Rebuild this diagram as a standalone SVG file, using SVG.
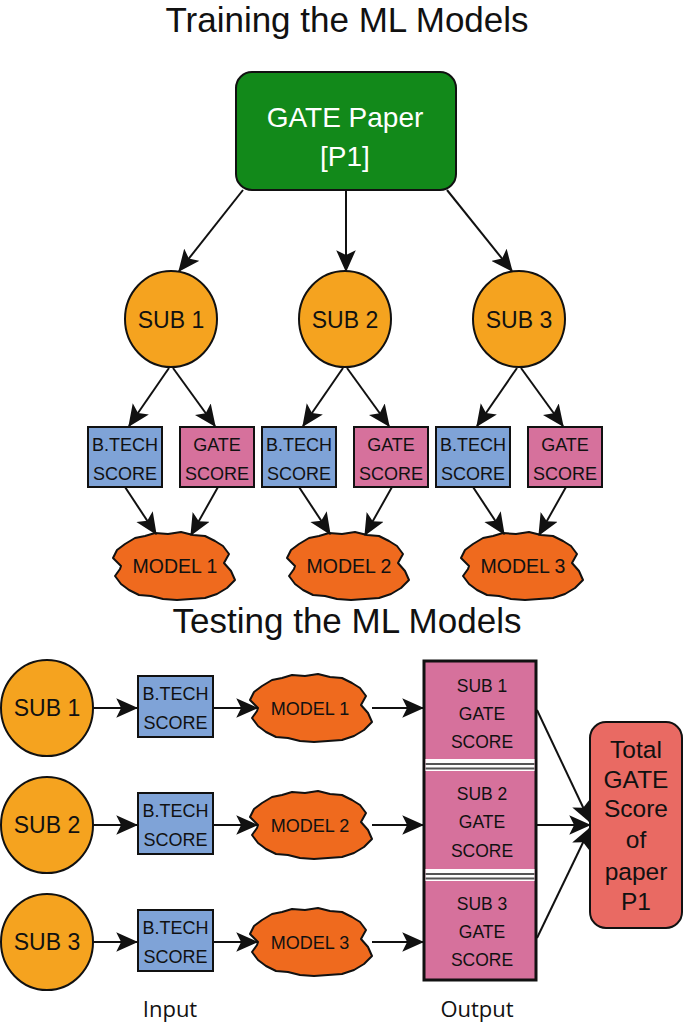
<svg xmlns="http://www.w3.org/2000/svg" xmlns:xlink="http://www.w3.org/1999/xlink" width="685" height="1023" viewBox="0 0 685 1023">
<style>
  text { font-family: "Liberation Sans", Arial, sans-serif; fill: #111; text-anchor: middle; }
  .title { font-size: 35px; }
  .sub { fill: #f5a31f; stroke: #111; stroke-width: 2; }
  .subt { font-size: 23px; }
  .btech { fill: #7fa3d7; stroke: #111; stroke-width: 2; }
  .gate { fill: #d6719c; stroke: #111; stroke-width: 2; }
  .bt { font-size: 18px; }
  .ot { font-size: 17.5px; }
  .cloud { fill: #ef6a1e; stroke: #111; stroke-width: 2; stroke-linejoin: round; }
  .ct { font-size: 19.5px; }
  .cb { font-size: 18px; }
  .tt { font-size: 24.5px; }
  .conn line { stroke: #111; stroke-width: 2; marker-end: url(#arr); }
  .lbl { font-family: "Open Sans", "Liberation Sans", sans-serif; font-size: 22px; }
</style>
<defs>
  <marker id="arr" viewBox="0 0 18 16" refX="17" refY="8" markerWidth="11" markerHeight="10" orient="auto" markerUnits="strokeWidth">
    <path d="M0,0 L18,8 L0,16 L4,8 Z" fill="#111"/>
  </marker>
  <polygon id="cloudShape" points="-52,0 -60,-8 -56,-16 -48,-22 -38,-28 -28,-30 -18,-33 -5,-32 8,-34 20,-31 32,-30 42,-25 50,-20 56,-12 51,-3 58,5 62,14 54,22 44,28 32,32 18,33 4,34 -10,33 -22,30 -34,29 -44,24 -52,18 -58,10 -53,3"/>
</defs>

<rect width="685" height="1023" fill="#ffffff"/>

<text class="title" x="347" y="32">Training the ML Models</text>
<text class="title" x="347" y="633">Testing the ML Models</text>

<g id="gate-paper">
  <rect x="236" y="72" width="220" height="118" rx="16" fill="#12891a" stroke="#111" stroke-width="2"/>
  <text x="345" y="127" style="font-size:28px; fill:#ffffff">GATE Paper</text>
  <text x="345" y="166" style="font-size:28px; fill:#ffffff">[P1]</text>
</g>

<!-- Training subjects -->
<g id="t-sub1"><ellipse class="sub" cx="171" cy="319" rx="46" ry="48"/><text class="subt" x="171" y="328">SUB 1</text></g>
<g id="t-sub2"><ellipse class="sub" cx="345" cy="319" rx="46" ry="48"/><text class="subt" x="345" y="328">SUB 2</text></g>
<g id="t-sub3"><ellipse class="sub" cx="519" cy="319" rx="46" ry="48"/><text class="subt" x="519" y="328">SUB 3</text></g>

<g id="t-btech1"><rect class="btech" x="88" y="427" width="74" height="60"/><text class="bt" x="125" y="451">B.TECH</text><text class="bt" x="125" y="480">SCORE</text></g>
<g id="t-gate1"><rect class="gate" x="180" y="427" width="74" height="60"/><text class="bt" x="217" y="451">GATE</text><text class="bt" x="217" y="480">SCORE</text></g>
<g id="t-btech2"><rect class="btech" x="262" y="427" width="74" height="60"/><text class="bt" x="299" y="451">B.TECH</text><text class="bt" x="299" y="480">SCORE</text></g>
<g id="t-gate2"><rect class="gate" x="354" y="427" width="74" height="60"/><text class="bt" x="391" y="451">GATE</text><text class="bt" x="391" y="480">SCORE</text></g>
<g id="t-btech3"><rect class="btech" x="436" y="427" width="74" height="60"/><text class="bt" x="473" y="451">B.TECH</text><text class="bt" x="473" y="480">SCORE</text></g>
<g id="t-gate3"><rect class="gate" x="528" y="427" width="74" height="60"/><text class="bt" x="565" y="451">GATE</text><text class="bt" x="565" y="480">SCORE</text></g>

<g id="t-model1"><use xlink:href="#cloudShape" href="#cloudShape" class="cloud" transform="translate(173,566)"/><text class="ct" x="175" y="573">MODEL 1</text></g>
<g id="t-model2"><use xlink:href="#cloudShape" href="#cloudShape" class="cloud" transform="translate(347,566)"/><text class="ct" x="349" y="573">MODEL 2</text></g>
<g id="t-model3"><use xlink:href="#cloudShape" href="#cloudShape" class="cloud" transform="translate(521,566)"/><text class="ct" x="523" y="573">MODEL 3</text></g>

<!-- Testing -->
<g id="s-sub1"><ellipse class="sub" cx="47" cy="708" rx="46" ry="48"/><text class="subt" x="47" y="716">SUB 1</text></g>
<g id="s-sub2"><ellipse class="sub" cx="47" cy="825" rx="46" ry="48"/><text class="subt" x="47" y="833">SUB 2</text></g>
<g id="s-sub3"><ellipse class="sub" cx="47" cy="942" rx="46" ry="48"/><text class="subt" x="47" y="950">SUB 3</text></g>

<g id="s-btech1"><rect class="btech" x="138" y="676" width="75" height="61"/><text class="bt" x="175.5" y="700">B.TECH</text><text class="bt" x="175.5" y="729">SCORE</text></g>
<g id="s-btech2"><rect class="btech" x="138" y="793" width="75" height="61"/><text class="bt" x="175.5" y="817">B.TECH</text><text class="bt" x="175.5" y="846">SCORE</text></g>
<g id="s-btech3"><rect class="btech" x="138" y="910" width="75" height="61"/><text class="bt" x="175.5" y="934">B.TECH</text><text class="bt" x="175.5" y="963">SCORE</text></g>

<g id="s-model1"><use xlink:href="#cloudShape" href="#cloudShape" class="cloud" transform="translate(310,708)"/><text class="cb" x="310" y="715">MODEL 1</text></g>
<g id="s-model2"><use xlink:href="#cloudShape" href="#cloudShape" class="cloud" transform="translate(310,825)"/><text class="cb" x="310" y="832">MODEL 2</text></g>
<g id="s-model3"><use xlink:href="#cloudShape" href="#cloudShape" class="cloud" transform="translate(310,942)"/><text class="cb" x="310" y="949">MODEL 3</text></g>

<g id="output">
  <rect x="424" y="661" width="112" height="319" fill="#d6719c" stroke="#111" stroke-width="3"/>
  <rect x="425.5" y="759" width="109" height="12" fill="#ffffff"/>
  <line x1="425.5" y1="764" x2="534.5" y2="764" stroke="#555" stroke-width="2"/>
  <line x1="425.5" y1="768.5" x2="534.5" y2="768.5" stroke="#555" stroke-width="2"/>
  <rect x="425.5" y="869" width="109" height="12" fill="#ffffff"/>
  <line x1="425.5" y1="874" x2="534.5" y2="874" stroke="#555" stroke-width="2"/>
  <line x1="425.5" y1="878.5" x2="534.5" y2="878.5" stroke="#555" stroke-width="2"/>
  <text class="ot" x="482" y="692">SUB 1</text><text class="ot" x="482" y="720">GATE</text><text class="ot" x="482" y="748">SCORE</text>
  <text class="ot" x="482" y="800">SUB 2</text><text class="ot" x="482" y="828">GATE</text><text class="ot" x="482" y="857">SCORE</text>
  <text class="ot" x="482" y="910">SUB 3</text><text class="ot" x="482" y="938">GATE</text><text class="ot" x="482" y="966">SCORE</text>
</g>

<g id="total">
  <rect x="590" y="722" width="92" height="206" rx="16" fill="#e96a63" stroke="#111" stroke-width="2"/>
  <text class="tt" x="636" y="758">Total</text>
  <text class="tt" x="636" y="788">GATE</text>
  <text class="tt" x="636" y="817">Score</text>
  <text class="tt" x="636" y="848">of</text>
  <text class="tt" x="636" y="880">paper</text>
  <text class="tt" x="636" y="910">P1</text>
</g>

<text class="lbl" x="170" y="1017">Input</text>
<text class="lbl" x="477" y="1017">Output</text>

<g id="connectors" class="conn">
  <line x1="243" y1="190" x2="179" y2="271"/>
  <line x1="346" y1="190" x2="346" y2="271"/>
  <line x1="447" y1="190" x2="512" y2="271"/>
  <line x1="169" y1="368" x2="129" y2="426"/>
  <line x1="173" y1="368" x2="215" y2="426"/>
  <line x1="343" y1="368" x2="303" y2="426"/>
  <line x1="347" y1="368" x2="389" y2="426"/>
  <line x1="517" y1="368" x2="477" y2="426"/>
  <line x1="521" y1="368" x2="563" y2="426"/>
  <line x1="125" y1="487" x2="156" y2="534"/>
  <line x1="218" y1="487" x2="191" y2="535"/>
  <line x1="299" y1="487" x2="330" y2="534"/>
  <line x1="392" y1="487" x2="365" y2="535"/>
  <line x1="473" y1="487" x2="504" y2="534"/>
  <line x1="566" y1="487" x2="539" y2="535"/>

  <line x1="93" y1="708" x2="137" y2="708"/>
  <line x1="213" y1="708" x2="257" y2="708"/>
  <line x1="372" y1="708" x2="423" y2="708"/>
  <line x1="93" y1="825" x2="137" y2="825"/>
  <line x1="213" y1="825" x2="257" y2="825"/>
  <line x1="372" y1="825" x2="423" y2="825"/>
  <line x1="93" y1="942" x2="137" y2="942"/>
  <line x1="213" y1="942" x2="257" y2="942"/>
  <line x1="372" y1="942" x2="423" y2="942"/>

  <line x1="537" y1="710" x2="590" y2="822"/>
  <line x1="537" y1="825" x2="590" y2="825"/>
  <line x1="537" y1="938" x2="590" y2="828"/>
</g>
</svg>
